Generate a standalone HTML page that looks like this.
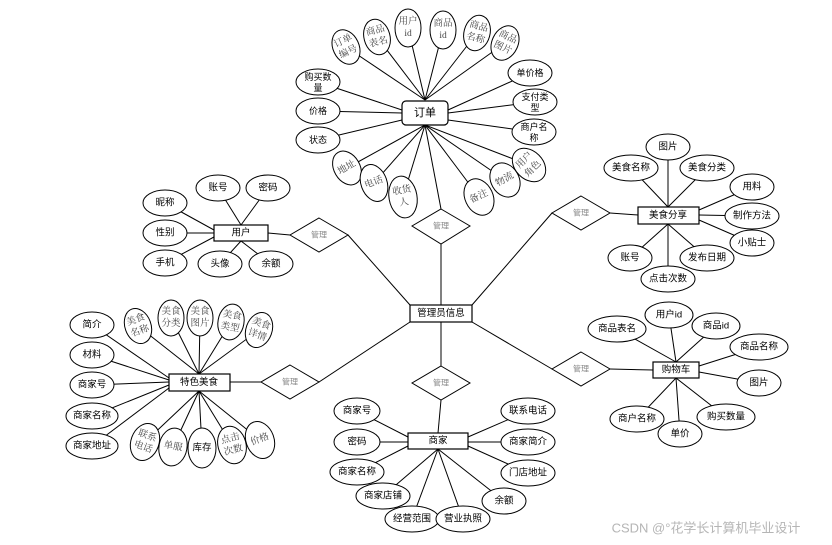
<!DOCTYPE html>
<html><head><meta charset="utf-8"><style>
html,body{margin:0;padding:0;background:#fff;width:832px;height:545px;overflow:hidden}
svg{display:block}
text{font-family:"Liberation Sans","Noto Sans CJK SC",sans-serif;font-size:9.5px;fill:#000;text-anchor:middle;dominant-baseline:central}
.s{font-family:"Liberation Serif","Noto Serif CJK SC",serif;fill:#444;font-size:9.5px}
.d{fill:#888;font-size:8px}
ellipse{fill:#fff;stroke:#000;stroke-width:1}
line{stroke:#000;stroke-width:1}
rect{fill:#fff;stroke:#000;stroke-width:1.2}
polygon{fill:#fff;stroke:#000;stroke-width:1}
</style></head><body>
<svg width="832" height="545" viewBox="0 0 832 545">
<line x1="441" y1="305" x2="441" y2="244"/><line x1="441" y1="209" x2="425" y2="125"/>
<line x1="410" y1="305" x2="348" y2="235"/><line x1="290" y1="235" x2="268" y2="233"/>
<line x1="410" y1="322" x2="319" y2="382"/><line x1="261" y1="382" x2="230" y2="382"/>
<line x1="472" y1="305" x2="552" y2="213"/><line x1="610" y1="213" x2="638" y2="215"/>
<line x1="472" y1="322" x2="552" y2="369"/><line x1="610" y1="369" x2="653" y2="370"/>
<line x1="441" y1="322" x2="441" y2="366"/><line x1="441" y1="400" x2="438" y2="433"/>

<g>
<line x1="425" y1="100" x2="346" y2="47"/><line x1="425" y1="100" x2="377" y2="37"/>
<line x1="425" y1="100" x2="408" y2="28"/><line x1="425" y1="100" x2="443" y2="30"/>
<line x1="425" y1="100" x2="477" y2="33"/><line x1="425" y1="100" x2="505" y2="43"/>
<line x1="402" y1="110" x2="318" y2="82"/><line x1="402" y1="113" x2="318" y2="111"/>
<line x1="402" y1="120" x2="318" y2="140"/>
<line x1="448" y1="110" x2="530" y2="73"/><line x1="448" y1="113" x2="535" y2="102"/>
<line x1="448" y1="120" x2="534" y2="132"/>
<line x1="425" y1="125" x2="347" y2="168"/><line x1="425" y1="125" x2="374" y2="183"/>
<line x1="425" y1="125" x2="403" y2="197"/><line x1="425" y1="125" x2="479" y2="197"/>
<line x1="425" y1="125" x2="505" y2="180"/><line x1="425" y1="125" x2="529" y2="165"/>
</g>
<line x1="241" y1="225" x2="218" y2="188"/><line x1="241" y1="225" x2="268" y2="188"/>
<line x1="214" y1="230" x2="165" y2="203"/><line x1="214" y1="233" x2="165" y2="233"/>
<line x1="214" y1="237" x2="165" y2="263"/>
<line x1="241" y1="241" x2="220" y2="264"/><line x1="241" y1="241" x2="271" y2="264"/>
<g>
<line x1="169" y1="378" x2="92" y2="325"/><line x1="169" y1="380" x2="92" y2="355"/>
<line x1="169" y1="382" x2="92" y2="385"/><line x1="169" y1="385" x2="92" y2="416"/>
<line x1="169" y1="388" x2="92" y2="446"/>
<line x1="199" y1="374" x2="138" y2="326"/><line x1="199" y1="374" x2="171" y2="318"/>
<line x1="199" y1="374" x2="200" y2="318"/><line x1="199" y1="374" x2="231" y2="322"/>
<line x1="199" y1="374" x2="259" y2="330"/>
<line x1="199" y1="391" x2="145" y2="442"/><line x1="199" y1="391" x2="173" y2="447"/>
<line x1="199" y1="391" x2="202" y2="448"/><line x1="199" y1="391" x2="232" y2="445"/>
<line x1="199" y1="391" x2="260" y2="440"/>
</g>
<line x1="668" y1="207" x2="668" y2="147"/><line x1="668" y1="207" x2="631" y2="168"/>
<line x1="668" y1="207" x2="707" y2="168"/><line x1="699" y1="210" x2="752" y2="187"/>
<line x1="699" y1="215" x2="752" y2="216"/><line x1="699" y1="220" x2="752" y2="243"/>
<line x1="668" y1="224" x2="630" y2="258"/><line x1="668" y1="224" x2="668" y2="279"/>
<line x1="668" y1="224" x2="707" y2="258"/>
<line x1="676" y1="362" x2="669" y2="315"/><line x1="676" y1="362" x2="617" y2="329"/>
<line x1="676" y1="362" x2="716" y2="326"/><line x1="699" y1="366" x2="759" y2="347"/>
<line x1="699" y1="372" x2="759" y2="383"/>
<line x1="676" y1="378" x2="637" y2="419"/><line x1="676" y1="378" x2="680" y2="434"/>
<line x1="676" y1="378" x2="726" y2="417"/>
<line x1="408" y1="437" x2="357" y2="411"/><line x1="408" y1="442" x2="357" y2="442"/>
<line x1="408" y1="446" x2="357" y2="472"/>
<line x1="438" y1="449" x2="383" y2="496"/><line x1="438" y1="449" x2="412" y2="519"/>
<line x1="438" y1="449" x2="463" y2="519"/><line x1="438" y1="449" x2="504" y2="501"/>
<line x1="468" y1="446" x2="528" y2="473"/><line x1="468" y1="442" x2="528" y2="442"/>
<line x1="468" y1="437" x2="528" y2="411"/>

<polygon points="441,209 470,226 441,244 412,226"/><text x="441" y="226" class="d">管理</text>
<polygon points="319,218 348,235 319,252 290,235"/><text x="319" y="235" class="d">管理</text>
<polygon points="290,365 319,382 290,399 261,382"/><text x="290" y="382" class="d">管理</text>
<polygon points="581,196 610,213 581,230 552,213"/><text x="581" y="213" class="d">管理</text>
<polygon points="581,352 610,369 581,386 552,369"/><text x="581" y="369" class="d">管理</text>
<polygon points="441,366 470,383 441,400 412,383"/><text x="441" y="383" class="d">管理</text>

<rect x="410" y="305" width="62" height="17"/><text x="441" y="313.5">管理员信息</text>
<rect x="402" y="101" width="46" height="24" rx="4"/><text x="425" y="113" style="font-size:11px">订单</text>
<rect x="214" y="225" width="54" height="16"/><text x="241" y="233">用户</text>
<rect x="169" y="374" width="61" height="17"/><text x="199" y="382.5">特色美食</text>
<rect x="638" y="207" width="61" height="17"/><text x="668" y="215.5">美食分享</text>
<rect x="653" y="362" width="46" height="16"/><text x="676" y="370">购物车</text>
<rect x="408" y="433" width="60" height="16"/><text x="438" y="441">商家</text>

<g transform="translate(346,47) rotate(-25)"><ellipse rx="13" ry="18"/><text class="s" y="-6">订单</text><text class="s" y="6">编号</text></g>
<g transform="translate(377,37) rotate(-15)"><ellipse rx="13" ry="18"/><text class="s" y="-6">商品</text><text class="s" y="6">表名</text></g>
<g transform="translate(408,28)"><ellipse rx="13" ry="19"/><text class="s" y="-6">用户</text><text class="s" y="6">id</text></g>
<g transform="translate(443,30)"><ellipse rx="13" ry="19"/><text class="s" y="-6">商品</text><text class="s" y="6">id</text></g>
<g transform="translate(477,33) rotate(15)"><ellipse rx="13" ry="18"/><text class="s" y="-6">商品</text><text class="s" y="6">名称</text></g>
<g transform="translate(505,43) rotate(25)"><ellipse rx="13" ry="18"/><text class="s" y="-6">商品</text><text class="s" y="6">图片</text></g>
<ellipse cx="318" cy="82" rx="22" ry="13"/><text x="318" y="77" style="font-size:9px">购买数</text><text x="318" y="88" style="font-size:9px">量</text>
<ellipse cx="318" cy="111" rx="22" ry="13"/><text x="318" y="111" style="font-size:9px">价格</text>
<ellipse cx="318" cy="140" rx="22" ry="13"/><text x="318" y="140" style="font-size:9px">状态</text>
<ellipse cx="530" cy="73" rx="22" ry="13"/><text x="530" y="73" style="font-size:9px">单价格</text>
<ellipse cx="535" cy="102" rx="22" ry="13"/><text x="535" y="97" style="font-size:9px">支付类</text><text x="535" y="108" style="font-size:9px">型</text>
<ellipse cx="534" cy="132" rx="22" ry="13"/><text x="534" y="127" style="font-size:9px">商户名</text><text x="534" y="138" style="font-size:9px">称</text>
<g transform="translate(347,168) rotate(-30)"><ellipse rx="13" ry="18"/><text class="s">地址</text></g>
<g transform="translate(374,183) rotate(-20)"><ellipse rx="13" ry="19"/><text class="s">电话</text></g>
<g transform="translate(403,197) rotate(-10)"><ellipse rx="14" ry="21"/><text class="s" y="-6">收货</text><text class="s" y="6">人</text></g>
<g transform="translate(479,197) rotate(-25)"><ellipse rx="14" ry="19"/><text class="s">备注</text></g>
<g transform="translate(505,180) rotate(-30)"><ellipse rx="14" ry="18"/><text class="s">物流</text></g>
<g transform="translate(529,165) rotate(-45)"><ellipse rx="14" ry="19"/><text class="s" y="-6">用户</text><text class="s" y="6">角色</text></g>

<ellipse cx="218" cy="188" rx="22" ry="13"/><text x="218" y="188">账号</text>
<ellipse cx="268" cy="188" rx="22" ry="13"/><text x="268" y="188">密码</text>
<ellipse cx="165" cy="203" rx="22" ry="13"/><text x="165" y="203">昵称</text>
<ellipse cx="165" cy="233" rx="22" ry="13"/><text x="165" y="233">性别</text>
<ellipse cx="165" cy="263" rx="22" ry="13"/><text x="165" y="263">手机</text>
<ellipse cx="220" cy="264" rx="22" ry="13"/><text x="220" y="264">头像</text>
<ellipse cx="271" cy="264" rx="22" ry="13"/><text x="271" y="264">余额</text>

<ellipse cx="92" cy="325" rx="22" ry="13"/><text x="92" y="325">简介</text>
<ellipse cx="92" cy="355" rx="22" ry="13"/><text x="92" y="355">材料</text>
<ellipse cx="92" cy="385" rx="22" ry="13"/><text x="92" y="385">商家号</text>
<ellipse cx="92" cy="416" rx="26" ry="13"/><text x="92" y="416">商家名称</text>
<ellipse cx="92" cy="446" rx="26" ry="13"/><text x="92" y="446">商家地址</text>
<g transform="translate(138,326) rotate(-20)"><ellipse rx="13" ry="18"/><text class="s" y="-6">美食</text><text class="s" y="6">名称</text></g>
<g transform="translate(171,318)"><ellipse rx="13" ry="18"/><text class="s" y="-6">美食</text><text class="s" y="6">分类</text></g>
<g transform="translate(200,318)"><ellipse rx="13" ry="18"/><text class="s" y="-6">美食</text><text class="s" y="6">图片</text></g>
<g transform="translate(231,322) rotate(10)"><ellipse rx="13" ry="18"/><text class="s" y="-6">美食</text><text class="s" y="6">类型</text></g>
<g transform="translate(259,330) rotate(20)"><ellipse rx="13" ry="18"/><text class="s" y="-6">美食</text><text class="s" y="6">详情</text></g>
<g transform="translate(145,442) rotate(20)"><ellipse rx="14" ry="19"/><text class="s" y="-6">联系</text><text class="s" y="6">电话</text></g>
<g transform="translate(173,447) rotate(10)"><ellipse rx="14" ry="19"/><text class="s">单服</text></g>
<ellipse cx="202" cy="448" rx="14" ry="20"/><text x="202" y="448">库存</text>
<g transform="translate(232,445) rotate(-15)"><ellipse rx="14" ry="19"/><text class="s" y="-6">点击</text><text class="s" y="6">次数</text></g>
<g transform="translate(260,440) rotate(-20)"><ellipse rx="14" ry="19"/><text class="s">价格</text></g>

<ellipse cx="668" cy="147" rx="22" ry="13"/><text x="668" y="147">图片</text>
<ellipse cx="631" cy="168" rx="27" ry="13"/><text x="631" y="168">美食名称</text>
<ellipse cx="707" cy="168" rx="27" ry="13"/><text x="707" y="168">美食分类</text>
<ellipse cx="752" cy="187" rx="22" ry="13"/><text x="752" y="187">用料</text>
<ellipse cx="752" cy="216" rx="27" ry="13"/><text x="752" y="216">制作方法</text>
<ellipse cx="752" cy="243" rx="22" ry="13"/><text x="752" y="243">小贴士</text>
<ellipse cx="630" cy="258" rx="22" ry="13"/><text x="630" y="258">账号</text>
<ellipse cx="707" cy="258" rx="27" ry="13"/><text x="707" y="258">发布日期</text>
<ellipse cx="668" cy="279" rx="27" ry="13"/><text x="668" y="279">点击次数</text>

<ellipse cx="617" cy="329" rx="29" ry="13"/><text x="617" y="329">商品表名</text>
<ellipse cx="669" cy="315" rx="24" ry="13"/><text x="669" y="315">用户id</text>
<ellipse cx="716" cy="326" rx="24" ry="13"/><text x="716" y="326">商品id</text>
<ellipse cx="759" cy="347" rx="29" ry="13"/><text x="759" y="347">商品名称</text>
<ellipse cx="759" cy="383" rx="22" ry="13"/><text x="759" y="383">图片</text>
<ellipse cx="637" cy="419" rx="27" ry="13"/><text x="637" y="419">商户名称</text>
<ellipse cx="726" cy="417" rx="29" ry="13"/><text x="726" y="417">购买数量</text>
<ellipse cx="680" cy="434" rx="22" ry="13"/><text x="680" y="434">单价</text>

<ellipse cx="357" cy="411" rx="23" ry="13"/><text x="357" y="411">商家号</text>
<ellipse cx="357" cy="442" rx="23" ry="13"/><text x="357" y="442">密码</text>
<ellipse cx="357" cy="472" rx="27" ry="13"/><text x="357" y="472">商家名称</text>
<ellipse cx="383" cy="496" rx="27" ry="13"/><text x="383" y="496">商家店铺</text>
<ellipse cx="412" cy="519" rx="27" ry="13"/><text x="412" y="519">经营范围</text>
<ellipse cx="463" cy="519" rx="27" ry="13"/><text x="463" y="519">营业执照</text>
<ellipse cx="504" cy="501" rx="22" ry="13"/><text x="504" y="501">余额</text>
<ellipse cx="528" cy="473" rx="27" ry="13"/><text x="528" y="473">门店地址</text>
<ellipse cx="528" cy="442" rx="27" ry="13"/><text x="528" y="442">商家简介</text>
<ellipse cx="528" cy="411" rx="27" ry="13"/><text x="528" y="411">联系电话</text>

<text x="706" y="528" style="font-size:13px;fill:#b5b5b5">CSDN @°花学长计算机毕业设计</text>
</svg>
</body></html>
